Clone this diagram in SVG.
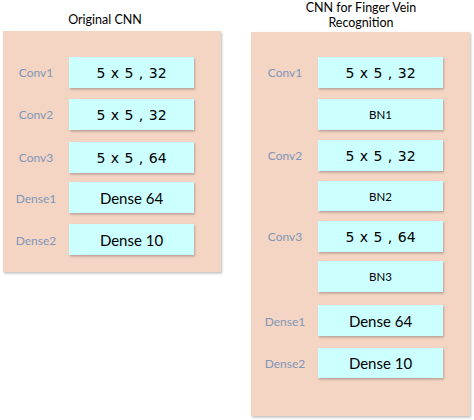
<svg xmlns="http://www.w3.org/2000/svg" width="474" height="420" viewBox="0 0 474 420">
<defs>
<filter id="sh" x="-10%" y="-10%" width="130%" height="140%">
<feDropShadow dx="1" dy="1.5" stdDeviation="1" flood-color="#000" flood-opacity="0.25"/>
</filter>
</defs>
<style>
.panel{fill:#F4D5C3;filter:url(#sh)}
.box{fill:#CCFFFF;filter:url(#sh)}
.lbl{font-family:Lato,"Liberation Sans",sans-serif;font-size:12px;fill:#7F95BA;text-anchor:middle;dominant-baseline:central}
.mono{font-family:"DejaVu Sans",sans-serif;font-size:14px;fill:#000;text-anchor:middle;dominant-baseline:central;word-spacing:1px}
.dense{font-family:Lato,"Liberation Sans",sans-serif;font-size:15px;fill:#000;text-anchor:middle;dominant-baseline:central}
.bn{font-family:Lato,"Liberation Sans",sans-serif;font-size:11.5px;fill:#000;text-anchor:middle;dominant-baseline:central}
.title{font-family:Lato,"Liberation Sans",sans-serif;font-size:12.5px;fill:#000;text-anchor:middle}
</style>
<rect width="474" height="420" fill="#fff"/>
<g id="original">
<text class="title" x="105" y="24">Original CNN</text>
<rect class="panel" x="3" y="31" width="218" height="241"/>
<g id="o-conv1"><text class="lbl" x="36" y="72.5">Conv1</text><rect class="box" x="69" y="57" width="125" height="31"/><text class="mono" x="131.5" y="72.5">5 x 5 , 32</text></g>
<g id="o-conv2"><text class="lbl" x="36" y="114.5">Conv2</text><rect class="box" x="69" y="99" width="125" height="31"/><text class="mono" x="131.5" y="114.5">5 x 5 , 32</text></g>
<g id="o-conv3"><text class="lbl" x="36" y="157.5">Conv3</text><rect class="box" x="69" y="142" width="125" height="31"/><text class="mono" x="131.5" y="157.5">5 x 5 , 64</text></g>
<g id="o-dense1"><text class="lbl" x="36" y="198">Dense1</text><rect class="box" x="69" y="182" width="125" height="31"/><text class="dense" x="131.5" y="197.5">Dense 64</text></g>
<g id="o-dense2"><text class="lbl" x="36" y="240">Dense2</text><rect class="box" x="69" y="224" width="125" height="31"/><text class="dense" x="131.5" y="239.5">Dense 10</text></g>
</g>
<g id="finger">
<text class="title" x="361" y="12">CNN for Finger Vein</text>
<text class="title" x="361" y="27">Recognition</text>
<rect class="panel" x="251" y="32" width="219" height="384"/>
<g id="f-conv1"><text class="lbl" x="285" y="72.5">Conv1</text><rect class="box" x="318" y="57" width="125" height="31"/><text class="mono" x="380.5" y="72.5">5 x 5 , 32</text></g>
<g id="f-bn1"><rect class="box" x="318" y="99" width="125" height="31"/><text class="bn" x="380.5" y="114.5">BN1</text></g>
<g id="f-conv2"><text class="lbl" x="285" y="155.5">Conv2</text><rect class="box" x="318" y="140" width="125" height="31"/><text class="mono" x="380.5" y="155.5">5 x 5 , 32</text></g>
<g id="f-bn2"><rect class="box" x="318" y="181" width="125" height="30"/><text class="bn" x="380.5" y="196">BN2</text></g>
<g id="f-conv3"><text class="lbl" x="285" y="236.5">Conv3</text><rect class="box" x="318" y="221" width="125" height="31"/><text class="mono" x="380.5" y="236.5">5 x 5 , 64</text></g>
<g id="f-bn3"><rect class="box" x="318" y="261" width="125" height="31"/><text class="bn" x="380.5" y="276.5">BN3</text></g>
<g id="f-dense1"><text class="lbl" x="285" y="321">Dense1</text><rect class="box" x="318" y="305" width="125" height="31"/><text class="dense" x="380.5" y="320.5">Dense 64</text></g>
<g id="f-dense2"><text class="lbl" x="285" y="363.5">Dense2</text><rect class="box" x="318" y="348" width="125" height="30"/><text class="dense" x="380.5" y="363">Dense 10</text></g>
</g>
<g id="connectors"/>
</svg>
